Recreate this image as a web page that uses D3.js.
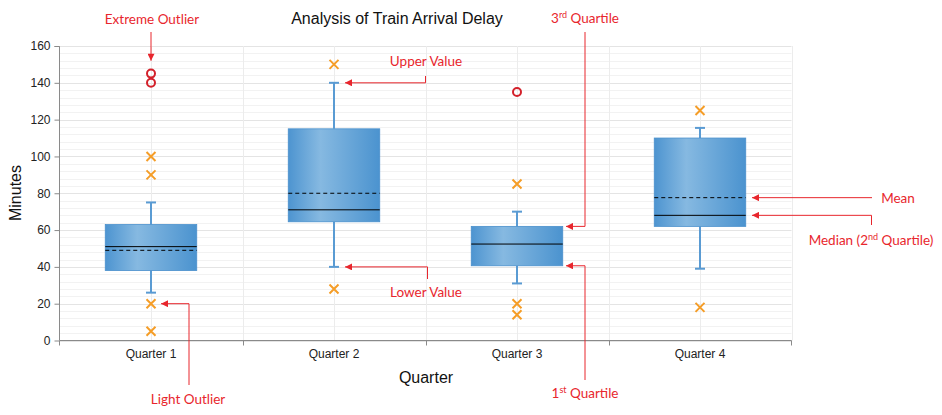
<!DOCTYPE html>
<html><head><meta charset="utf-8">
<script src="https://cdn.jsdelivr.net/npm/d3@7"></script>
<style>body{margin:0;background:#fff}svg{display:block}</style>
</head><body>
<svg id="c" width="942" height="415"></svg>
<script>
const categories = ["Quarter 1","Quarter 2","Quarter 3","Quarter 4"];
const lowerValues = [26, 40, 31, 39];
const q1Values = [38, 64.5, 40.6, 62];
const medianValues = [51, 71, 52.4, 68];
const q3Values = [63, 115, 62, 110];
const upperValues = [75, 140, 70, 115.5];
const meanValues = [49, 80, 52.4, 77.6];
const lightOutliers = [[100, 90, 20, 5], [150, 28], [85, 20, 14], [125, 18]];
const extremeOutliers = [[145, 140], [], [135], []];
const yTicks = [0, 20, 40, 60, 80, 100, 120, 140, 160];

const svg = d3.select("#c");
const m = {l: 59.5, r: 791.5, t: 46, b: 340.5};
const x = d3.scaleBand().domain(categories).range([m.l, m.r]);
const y = d3.scaleLinear().domain([0, 160]).range([m.b, m.t]);
const red = "#e8262d";
const font = "'Liberation Sans', Arial, sans-serif";

// gradient
const defs = svg.append("defs");
const g = defs.append("linearGradient").attr("id","bg").attr("x1","0").attr("x2","1").attr("y1","0").attr("y2","0");
g.append("stop").attr("offset","0").attr("stop-color","#4d94d0");
g.append("stop").attr("offset","0.35").attr("stop-color","#86b9e1");
g.append("stop").attr("offset","1").attr("stop-color","#4b93cf");
const mk = defs.append("marker").attr("id","arr").attr("viewBox","0 0 10 10").attr("refX","10").attr("refY","5")
  .attr("markerWidth",8).attr("markerHeight",7).attr("markerUnits","userSpaceOnUse").attr("orient","auto");
mk.append("path").attr("d","M0,0 L10,5 L0,10 z").attr("fill",red);

// grid
const minor = d3.range(0, 161, 4);
svg.append("g").selectAll("line").data(minor).join("line")
  .attr("x1", m.l).attr("x2", m.r).attr("y1", d => Math.round(y(d))+0.5).attr("y2", d => Math.round(y(d))+0.5)
  .attr("stroke", d => d % 20 === 0 ? "#e4e4e4" : "#f2f2f2").attr("stroke-width", 1);
const vlines = [];
categories.forEach(c => { vlines.push(x(c)); vlines.push(x(c) + x.bandwidth()/2); });
vlines.push(m.r);
svg.append("g").selectAll("line").data(vlines.slice(1)).join("line")
  .attr("x1", d => Math.round(d)+0.5).attr("x2", d => Math.round(d)+0.5).attr("y1", m.t).attr("y2", m.b)
  .attr("stroke", "#ececec");

// axes
const yAxis = svg.append("g").attr("transform", `translate(${m.l},0)`)
  .call(d3.axisLeft(y).tickValues(yTicks).tickSize(5).tickPadding(4));
const xAxis = svg.append("g").attr("transform", `translate(0,${m.b})`)
  .call(d3.axisBottom(x).tickSize(0).tickPadding(9));
[yAxis, xAxis].forEach(a => {
  a.attr("font-family", font).attr("font-size", 12);
  a.select(".domain").attr("stroke", "#8a8a8a");
  a.selectAll(".tick line").attr("stroke", "#8a8a8a");
  a.selectAll("text").attr("fill", "#222");
});
yAxis.select(".domain").attr("d", `M-5,${m.t+0.5}H0V${m.b}`);
xAxis.select(".domain").attr("d", `M${m.l},5V0H${m.r}V5`);
svg.append("g").selectAll("line").data(categories.slice(1)).join("line")
  .attr("x1", d => Math.round(x(d))+0.5).attr("x2", d => Math.round(x(d))+0.5)
  .attr("y1", m.b).attr("y2", m.b+5).attr("stroke", "#8a8a8a");

// boxes
const bw = x.bandwidth()/2;
categories.forEach((c, i) => {
  const cx = x(c) + x.bandwidth()/2;
  const gg = svg.append("g");
  const wc = "#5a9bd3";
  gg.append("line").attr("x1", cx).attr("x2", cx).attr("y1", y(upperValues[i])).attr("y2", y(q3Values[i])).attr("stroke", wc).attr("stroke-width", 2);
  gg.append("line").attr("x1", cx).attr("x2", cx).attr("y1", y(q1Values[i])).attr("y2", y(lowerValues[i])).attr("stroke", wc).attr("stroke-width", 2);
  [upperValues[i], lowerValues[i]].forEach(v => gg.append("line").attr("x1", cx-5).attr("x2", cx+5).attr("y1", y(v)).attr("y2", y(v)).attr("stroke", wc).attr("stroke-width", 2));
  gg.append("rect").attr("x", cx - bw/2).attr("width", bw).attr("y", y(q3Values[i])).attr("height", y(q1Values[i]) - y(q3Values[i]))
    .attr("fill", "url(#bg)").attr("stroke", "#4a90cc").attr("stroke-width", 0.8);
  if (meanValues[i] !== medianValues[i]) {
    gg.append("line").attr("x1", cx - bw/2).attr("x2", cx + bw/2).attr("y1", y(meanValues[i])).attr("y2", y(meanValues[i]))
      .attr("stroke", "#000").attr("stroke-width", 1).attr("stroke-dasharray", "4,3");
  }
  gg.append("line").attr("x1", cx - bw/2).attr("x2", cx + bw/2).attr("y1", y(medianValues[i])).attr("y2", y(medianValues[i]))
    .attr("stroke", "#000").attr("stroke-width", 1);
  lightOutliers[i].forEach(v => {
    const py = y(v), s = 4.5;
    gg.append("path").attr("d", `M${cx-s},${py-s}L${cx+s},${py+s}M${cx-s},${py+s}L${cx+s},${py-s}`)
      .attr("stroke", "#f59d27").attr("stroke-width", 2).attr("fill", "none");
  });
  extremeOutliers[i].forEach(v => {
    gg.append("circle").attr("cx", cx).attr("cy", y(v)).attr("r", 4).attr("fill", "none").attr("stroke", "#d3212b").attr("stroke-width", 2);
  });
});

// titles
svg.append("text").attr("x", 397).attr("y", 24).attr("text-anchor", "middle").attr("font-family", font).attr("font-size", 16).attr("fill", "#111").text("Analysis of Train Arrival Delay");
svg.append("text").attr("x", 426).attr("y", 383).attr("text-anchor", "middle").attr("font-family", font).attr("font-size", 16).attr("fill", "#111").text("Quarter");
svg.append("text").attr("transform", "translate(21,193) rotate(-90)").attr("text-anchor", "middle").attr("font-family", font).attr("font-size", 16).attr("fill", "#111").text("Minutes");

// annotations
const af = "Lato, 'Open Sans', sans-serif";
function label(tx, ty, parts) {
  const t = svg.append("text").attr("x", tx).attr("y", ty).attr("text-anchor", "middle")
    .attr("font-family", af).attr("font-size", 13.5).attr("fill", red);
  let shifted = false;
  parts.forEach(p => {
    if (typeof p === "string") {
      const ts = t.append("tspan").text(p);
      if (shifted) { ts.attr("dy", 5); shifted = false; }
    } else {
      t.append("tspan").attr("font-size", 9).attr("dy", -5).text(p.sup);
      shifted = true;
    }
  });
}
function callout(points) {
  svg.append("path").attr("d", d3.line()(points)).attr("fill", "none").attr("stroke", red).attr("stroke-width", 1).attr("marker-end", "url(#arr)");
}
const cxs = categories.map(c => x(c) + x.bandwidth()/2);
label(152, 24, ["Extreme Outlier"]);
callout([[Math.round(cxs[0]), 32], [Math.round(cxs[0]), y(152)]]);
label(188, 404, ["Light Outlier"]);
callout([[189, 385], [189, y(20)], [161, y(20)]]);
label(426, 66, ["Upper Value"]);
callout([[425.5, 76], [425.5, y(upperValues[1])], [345, y(upperValues[1])]]);
label(426, 297, ["Lower Value"]);
callout([[427.5, 279], [427.5, y(lowerValues[1])], [345, y(lowerValues[1])]]);
label(585, 23, ["3", {sup: "rd"}, " Quartile"]);
callout([[585, 32], [585, y(q3Values[2])], [566, y(q3Values[2])]]);
label(585, 398, ["1", {sup: "st"}, " Quartile"]);
callout([[585, 380], [585, y(q1Values[2])], [566, y(q1Values[2])]]);
label(898, 203, ["Mean"]);
callout([[872, y(meanValues[3])], [752, y(meanValues[3])]]);
label(871, 245, ["Median (2", {sup: "nd"}, " Quartile)"]);
callout([[871.5, 225], [871.5, y(medianValues[3])], [752, y(medianValues[3])]]);
</script>
</body></html>
